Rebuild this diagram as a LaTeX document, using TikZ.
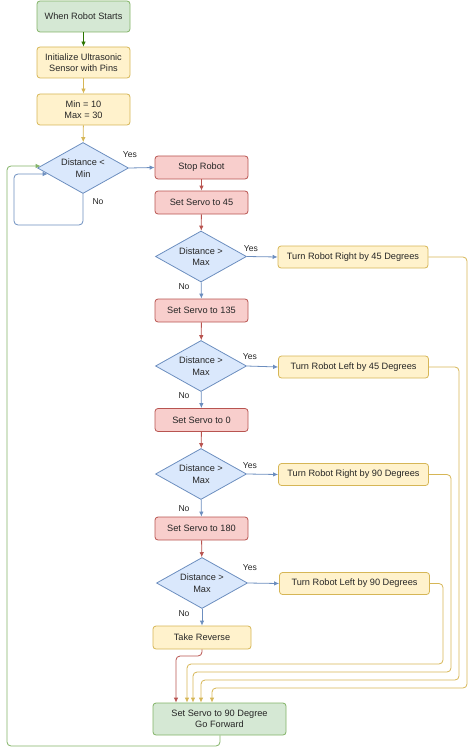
\documentclass[tikz,border=0pt]{standalone}
\usepackage{fontspec}
\setmainfont{Liberation Sans}
\usetikzlibrary{shapes.geometric,arrows.meta,calc}
\definecolor{gfill}{HTML}{D5E8D4}\definecolor{gline}{HTML}{82B366}
\definecolor{yfill}{HTML}{FFF2CC}\definecolor{yline}{HTML}{D6B656}
\definecolor{rfill}{HTML}{F8CECC}\definecolor{rline}{HTML}{B85450}
\definecolor{bfill}{HTML}{DAE8FC}\definecolor{bline}{HTML}{6C8EBF}
\definecolor{dgreen}{HTML}{2D7600}
\begin{document}
\begin{tikzpicture}[x=1pt,y=-1pt,
  every node/.style={font=\fontsize{9.2}{11.5}\selectfont, text=black!85},
  box/.style={rectangle, rounded corners=3pt, line width=0.8pt, inner sep=0pt, align=center},
  gbox/.style={box, fill=gfill, draw=gline},
  ybox/.style={box, fill=yfill, draw=yline},
  rbox/.style={box, fill=rfill, draw=rline, minimum width=93pt, minimum height=23pt},
  tbox/.style={box, fill=yfill, draw=yline, minimum width=150pt, minimum height=22pt},
  dec/.style={diamond, aspect=1.78, fill=bfill, draw=bline, line width=0.8pt, inner sep=0pt,
    minimum width=91pt, minimum height=51pt, align=center},
  arr/.style={line width=0.8pt, -{Latex[length=5pt,width=4.5pt]}, rounded corners=4pt},
  garr/.style={arr, draw=dgreen, -{Latex[length=5pt,width=4.5pt,color=dgreen]}},
  yarr/.style={arr, draw=yline},
  rarr/.style={arr, draw=rline},
  barr/.style={arr, draw=bline},
  lbl/.style={font=\fontsize{8.6}{10}\selectfont}
]
\useasboundingbox (0,0) rectangle (474,754);

\node[gbox, minimum width=93pt, minimum height=31pt] (start) at (83.5,16.5) {When Robot Starts};
\node[ybox, minimum width=93pt, minimum height=31pt] (init) at (83.5,62.5) {Initialize Ultrasonic\\Sensor with Pins};
\node[ybox, minimum width=93pt, minimum height=31pt] (mm) at (83.5,109.5) {Min = 10\\Max = 30};
\node[dec] (d0) at (83,168) {Distance <\\Min};

\node[rbox] (stop) at (201.5,167.5) {Stop Robot};
\node[rbox] (s45) at (201.5,202.5) {Set Servo to 45};
\node[dec] (d1) at (201,256.5) {Distance >\\Max};
\node[rbox] (s135) at (201.5,310.5) {Set Servo to 135};
\node[dec] (d2) at (201,366) {Distance >\\Max};
\node[rbox] (s0) at (201.5,420) {Set Servo to 0};
\node[dec] (d3) at (201,474) {Distance >\\Max};
\node[rbox] (s180) at (201.5,528.5) {Set Servo to 180};
\node[dec] (d4) at (202,583) {Distance >\\Max};
\node[ybox, minimum width=98pt, minimum height=23pt] (rev) at (202,637.5) {Take Reverse};
\node[gbox, minimum width=133pt, minimum height=32pt] (fin) at (219.5,719) {Set Servo to 90 Degree\\Go Forward};

\node[tbox] (t1) at (353,257) {Turn Robot Right by 45 Degrees};
\node[tbox] (t2) at (353.5,367) {Turn Robot Left by 45 Degrees};
\node[tbox] (t3) at (353.5,474.5) {Turn Robot Right by 90 Degrees};
\node[tbox] (t4) at (354.5,583.5) {Turn Robot Left by 90 Degrees};

% labels
\node[lbl] (y0) at (130,155) {Yes};
\node[lbl] (n0) at (98,202) {No};
\node[lbl] (y1) at (251,249) {Yes};
\node[lbl] (n1) at (184,287) {No};
\node[lbl] (y2) at (250,357) {Yes};
\node[lbl] (n2) at (184,396) {No};
\node[lbl] (y3) at (250,466) {Yes};
\node[lbl] (n3) at (184,509) {No};
\node[lbl] (y4) at (250,568) {Yes};
\node[lbl] (n4) at (184,614) {No};

% main flow
\draw[garr] (start) -- (init);
\draw[yarr] (init) -- (mm);
\draw[yarr] (mm) -- (d0);
\draw[barr] (d0.east) -- (stop.west);
\draw[rarr] (stop) -- (s45);
\draw[rarr] (s45) -- (d1);
\draw[barr] (d1) -- (s135);
\draw[rarr] (s135) -- (d2);
\draw[barr] (d2) -- (s0);
\draw[rarr] (s0) -- (d3);
\draw[barr] (d3) -- (s180);
\draw[rarr] (s180) -- (d4);
\draw[barr] (d4) -- (rev);
\draw[barr] (d1.east) -- (t1.west);
\draw[barr] (d2.east) -- (t2.west);
\draw[barr] (d3.east) -- (t3.west);
\draw[barr] (d4.east) -- (t4.west);

% loops
\draw[barr] (d0.south) -- (83,225) -- (14,225) -- (14,174) -- ([shift={(10.5pt,-6pt)}]d0.west);
\draw[arr, draw=gline] (fin.south -| 220,0) -- (220,746) -- (7,746) -- (7,166) -- ([shift={(3.5pt,2pt)}]d0.west);
\draw[rarr] (rev.south) -- (202,656) -- (176,656) -- (fin.north -| 176,0);
\draw[yarr] (t1.east) -- (467,257) -- (467,688) -- (212,688) -- (fin.north -| 212,0);
\draw[yarr] (t2.east) -- (459,367) -- (459,680) -- (201,680) -- (fin.north -| 201,0);
\draw[yarr] (t3.east) -- (451,474.5) -- (451,672) -- (193,672) -- (fin.north -| 193,0);
\draw[yarr] (t4.east) -- (443,583.5) -- (443,664) -- (187,664) -- (fin.north -| 187,0);
\end{tikzpicture}
\end{document}
